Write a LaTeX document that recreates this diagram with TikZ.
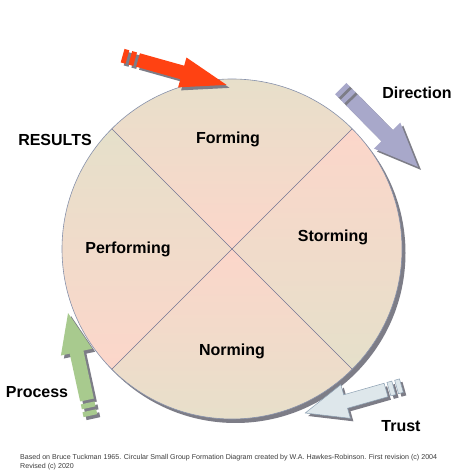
\documentclass[tikz,border=0pt]{standalone}
\usepackage{fontspec}
\setmainfont{Liberation Sans}
\definecolor{beige}{RGB}{229,224,202}
\definecolor{pinkq}{RGB}{252,214,202}
\definecolor{rimcol}{RGB}{135,145,170}
\definecolor{divcol}{RGB}{120,120,150}
\definecolor{shadowgray}{RGB}{125,125,135}
\definecolor{arrowred}{RGB}{255,66,18}
\definecolor{arrowlav}{RGB}{168,168,202}
\definecolor{arrowice}{RGB}{222,231,235}
\definecolor{arrowiceedge}{RGB}{140,160,178}
\definecolor{arrowgreen}{RGB}{168,202,142}
\definecolor{footgray}{RGB}{60,60,60}
\tikzset{
  label/.style={font=\bfseries\fontsize{16}{19}\selectfont, text=black, inner sep=0pt},
  foot/.style={font=\fontsize{7.1}{9}\selectfont, text=footgray, anchor=west, inner sep=0pt},
  divider/.style={draw=divcol, line width=0.6pt},
  shadowfill/.style={fill=shadowgray, draw=none},
  redfill/.style={fill=arrowred, draw=none},
  lavfill/.style={fill=arrowlav, draw=none},
  icefill/.style={fill=arrowice, draw=arrowiceedge, line width=0.5pt},
  greenfill/.style={fill=arrowgreen, draw=none},
}
% #1,#2 tail; #3 angle; #4 length; #5 shaft half width; #6 head length; #7 head half width; #8 style
\newcommand\fatarrow[8]{%
  \begin{scope}[shift={(#1+3,#2-3)},rotate=#3]
    \path[shadowfill] (0,-#5) -- (#4-#6,-#5) -- (#4-#6,-#7) -- (#4,0) -- (#4-#6,#7) -- (#4-#6,#5) -- (0,#5) -- cycle;
    \path[shadowfill] (-8,-#5) rectangle (-3,#5);
    \path[shadowfill] (-16,-#5) rectangle (-11,#5);
  \end{scope}
  \begin{scope}[shift={(#1,#2)},rotate=#3]
    \path[#8] (0,-#5) -- (#4-#6,-#5) -- (#4-#6,-#7) -- (#4,0) -- (#4-#6,#7) -- (#4-#6,#5) -- (0,#5) -- cycle;
    \path[#8] (-8,-#5) rectangle (-3,#5);
    \path[#8] (-16,-#5) rectangle (-11,#5);
  \end{scope}}
\begin{document}
\begin{tikzpicture}[x=1pt,y=1pt]
\useasboundingbox (0,0) rectangle (474,474);
\fill[white] (0,0) rectangle (474,474);
\coordinate (C) at (232,225);
% circle shadow
\fill[shadowgray] (235.5,221) circle[radius=170pt];
% quadrants
\shade[top color=beige,bottom color=pinkq] (C) -- ++(135:170pt) arc[start angle=135,end angle=45,radius=170pt] -- cycle;
\shade[top color=beige,bottom color=pinkq] (C) -- ++(135:170pt) arc[start angle=135,end angle=225,radius=170pt] -- cycle;
\shade[top color=pinkq,bottom color=beige] (C) -- ++(45:170pt) arc[start angle=45,end angle=-45,radius=170pt] -- cycle;
\shade[top color=pinkq,bottom color=beige] (C) -- ++(225:170pt) arc[start angle=225,end angle=315,radius=170pt] -- cycle;
\draw[rimcol, line width=0.6pt] (C) circle[radius=170pt];
\path (C) ++(45:170pt) coordinate (q1);
\path (C) ++(135:170pt) coordinate (q2);
\path (C) ++(225:170pt) coordinate (q3);
\path (C) ++(315:170pt) coordinate (q4);
\draw[divider] (q1) -- (q3);
\draw[divider] (q2) -- (q4);
% quadrant labels
\node[label] (forming) at (228,335) {Forming};
\node[label] (storming) at (333,237) {Storming};
\node[label] (performing) at (128,225) {Performing};
\node[label] (norming) at (232,123) {Norming};
% arrows
\fatarrow{138}{414}{-15.7}{92}{7}{46}{15.5}{redfill}
\fatarrow{352}{374}{-45.4}{94}{8}{44}{18.5}{lavfill}
\fatarrow{386}{84}{195.9}{84}{7}{42}{17.5}{icefill}
\fatarrow{87}{74}{102.3}{89}{7}{40}{16}{greenfill}
% outer labels
\node[label] (results) at (55,334) {RESULTS};
\node[label] (direction) at (417,381) {Direction};
\node[label] (trust) at (401,48) {Trust};
\node[label] (process) at (37,82) {Process};
% footer
\node[foot] (foot1) at (20,16) {Based on Bruce Tuckman 1965. Circular Small Group Formation Diagram created by W.A. Hawkes-Robinson. First revision (c) 2004};
\node[foot] (foot2) at (20,7) {Revised (c) 2020};
\end{tikzpicture}
\end{document}
